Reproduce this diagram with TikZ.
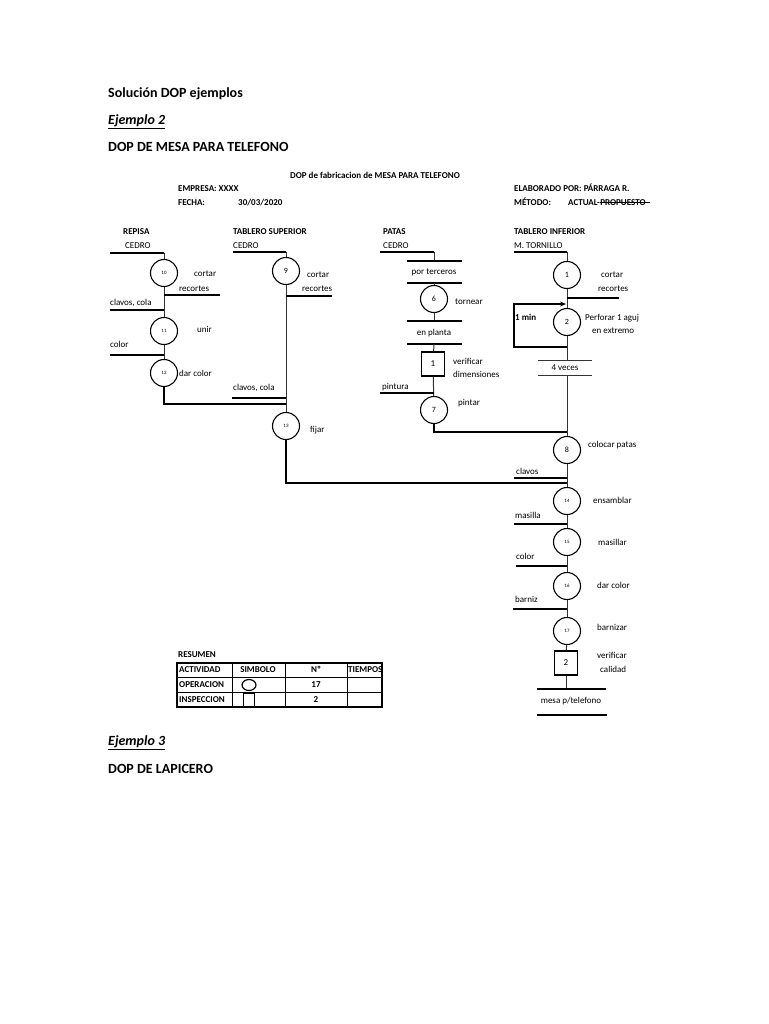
\documentclass[tikz,border=0pt]{standalone}
\usepackage{fontspec}
\setmainfont{Carlito}
\usetikzlibrary{arrows.meta,shapes.geometric}
\begin{document}
\begin{tikzpicture}[x=1pt,y=-1pt,
 op/.style={circle,draw,line width=1.1pt,minimum size=27pt,inner sep=0pt,font=\fontsize{8}{9}\selectfont},
 opsm/.style={op,font=\fontsize{5}{6}\selectfont},
 insp/.style={rectangle,draw,line width=1.1pt,minimum width=23pt,minimum height=24pt,inner sep=0pt,font=\fontsize{9}{10}\selectfont},
 lbl/.style={anchor=west,inner sep=0pt,text height=0.7em,text depth=0.2em,font=\fontsize{9}{11}\selectfont},
 clbl/.style={lbl,anchor=center},
 blbl/.style={lbl,font=\fontsize{9}{11}\selectfont\bfseries},
 head/.style={anchor=west,inner sep=0pt,text height=0.7em,text depth=0.2em,font=\fontsize{14}{16}\selectfont\bfseries},
 feed/.style={line width=1.5pt},
 flow/.style={line width=1pt,draw=black!80},
 grid/.style={line width=1pt},
]
\path[fill=white] (0,0) rectangle (768,1024);

% ---------- page headings ----------
\node[head] (t1) at (108,95) {Solución DOP ejemplos};
\node[head,font=\fontsize{14}{16}\selectfont\bfseries\itshape] (t2) at (108,122) {\underline{Ejemplo 2}};
\node[head] (t3) at (108,149) {DOP DE MESA PARA TELEFONO};
\node[head,font=\fontsize{14}{16}\selectfont\bfseries\itshape] (t4) at (108,743) {\underline{Ejemplo 3}};
\node[head] (t5) at (108,771) {DOP DE LAPICERO};

% ---------- chart header ----------
\node[blbl,anchor=center] (dt) at (375,176) {DOP de fabricacion de MESA PARA TELEFONO};
\node[blbl] (emp) at (178,189) {EMPRESA: XXXX};
\node[blbl] (fec) at (178,203) {FECHA:};
\node[blbl] (fd) at (238,203) {30/03/2020};
\node[blbl] (ela) at (514,189) {ELABORADO POR: PÁRRAGA R.};
\node[blbl] (met) at (514,203) {MÉTODO:};
\node[blbl] (act) at (568,203) {ACTUAL-};
\node[blbl] (prop) at (act.east) {PROPUESTO};
\draw[line width=0.7pt] ([yshift=0.6pt]prop.west) -- ([xshift=4pt,yshift=0.6pt]prop.east);

% ---------- column headings ----------
\node[blbl] (h1) at (123,232) {REPISA};
\node[lbl] (c1) at (125,246) {CEDRO};
\node[blbl] (h2) at (233,232) {TABLERO SUPERIOR};
\node[lbl] (c2) at (233,246) {CEDRO};
\node[blbl] (h3) at (383,232) {PATAS};
\node[lbl] (c3) at (383,246) {CEDRO};
\node[blbl] (h4) at (514,232) {TABLERO INFERIOR};
\node[lbl] (c4) at (514,246) {M. TORNILLO};

% ---------- REPISA ----------
\node[opsm] (o10) at (164,273) {10};
\node[opsm] (o11) at (164,331) {11};
\node[opsm] (o12) at (164,373) {12};
\coordinate (r0) at (110,253); \coordinate (r1) at (164,253);
\draw[feed] (r0) -- (r1);
\draw[flow] (r1) -- (o10);
\draw[flow] (o10) -- (o11);
\draw[flow] (o11) -- (o12);
\coordinate (r2) at (164,295); \coordinate (r3) at (220,295);
\draw[feed] (r2) -- (r3);
\coordinate (r4) at (110,310); \coordinate (r5) at (164,310);
\draw[feed] (r4) -- (r5);
\coordinate (r6) at (110,355); \coordinate (r7) at (164,355);
\draw[feed] (r6) -- (r7);
\coordinate (r8) at (164,404); \coordinate (r9) at (286,404);
\draw[feed] (o12) -- (r8) -- (r9);
\node[lbl] (l10) at (194,274) {cortar};
\node[lbl] (l10b) at (179,289) {recortes};
\node[lbl] (l11a) at (110,303) {clavos, cola};
\node[lbl] (l11) at (197,330) {unir};
\node[lbl] (l12a) at (110,345) {color};
\node[lbl] (l12) at (179,374) {dar color};

% ---------- TABLERO SUPERIOR ----------
\node[op] (o9) at (286,271) {9};
\node[opsm] (o13) at (286,426) {13};
\coordinate (s0) at (233,252); \coordinate (s1) at (286,252);
\draw[feed] (s0) -- (s1);
\draw[flow] (s1) -- (o9);
\draw[flow] (o9) -- (o13);
\coordinate (s2) at (286,296); \coordinate (s3) at (332,296);
\draw[feed] (s2) -- (s3);
\coordinate (s4) at (232,398); \coordinate (s5) at (286,398);
\draw[feed] (s4) -- (s5);
\coordinate (s6) at (286,483); \coordinate (s7) at (567,483);
\draw[feed] (o13) -- (s6) -- (s7);
\node[lbl] (l9) at (307,275) {cortar};
\node[lbl] (l9b) at (302,289) {recortes};
\node[lbl] (l13a) at (233,388) {clavos, cola};
\node[lbl] (l13) at (310,430) {fijar};

% ---------- PATAS ----------
\node[op] (o6) at (434,299) {6};
\node[insp] (i1) at (433,364) {1};
\node[op] (o7) at (434,410) {7};
\coordinate (p0) at (380,252); \coordinate (p1) at (434,252); \coordinate (p2) at (434,261);
\draw[feed] (p0) -- (p1);
\draw[flow] (p1) -- (p2);
\draw[feed] (407,261) -- (462,261);
\node[clbl] (pt) at (434,272) {por terceros};
\draw[feed] (407,283) -- (462,283);
\coordinate (p3) at (434,283);
\draw[flow] (p3) -- (o6);
\coordinate (p4) at (434,321);
\draw[flow] (o6) -- (p4);
\draw[feed] (407,321) -- (462,321);
\node[clbl] (ep) at (434,333) {en planta};
\draw[feed] (407,344) -- (462,344);
\coordinate (p5) at (434,344);
\draw[flow] (p5) -- (i1);
\draw[flow] (i1) -- (o7);
\coordinate (p6) at (380,393); \coordinate (p7) at (434,393);
\draw[feed] (p6) -- (p7);
\coordinate (p8) at (434,432); \coordinate (p9) at (567,432);
\draw[feed] (o7) -- (p8) -- (p9);
\node[lbl] (l6) at (455,302) {tornear};
\node[lbl] (li1) at (453,362) {verificar};
\node[lbl] (li1b) at (453,375) {dimensiones};
\node[lbl] (l7a) at (382,387) {pintura};
\node[lbl] (l7) at (458,403) {pintar};

% ---------- TABLERO INFERIOR ----------
\node[op] (o1) at (567,275) {1};
\node[op] (o2) at (567,322) {2};
\node[op] (o8) at (567,450) {8};
\node[opsm] (o14) at (567,501) {14};
\node[opsm] (o15) at (567,542) {15};
\node[opsm] (o16) at (567,586) {16};
\node[opsm] (o17) at (567,631) {17};
\node[insp] (i2) at (566,663) {2};
\coordinate (q0) at (514,252); \coordinate (q1) at (567,252);
\draw[feed] (q0) -- (q1);
\draw[flow] (q1) -- (o1);
\draw[flow] (o1) -- (o2);
\coordinate (q2) at (567,298); \coordinate (q3) at (619,298);
\draw[feed] (q2) -- (q3);
\coordinate (lb) at (567,347); \coordinate (lt) at (566,304);
\draw[feed,-{Stealth[length=6pt,width=5pt]}] (lb) -- (514,347) -- (514,304) -- (lt);
\node[blbl] (lmin) at (515,318) {1 min};
\coordinate (q4) at (567,360);
\draw[flow] (o2) -- (q4);
\draw[flow] (538,360) -- (592,360);
\node[clbl] (v4) at (565,368) {4 veces};
\draw[flow] (538,375) -- (592,375);
\coordinate (q5) at (567,375);
\draw[flow] (q5) -- (o8);
\coordinate (q6) at (514,478); \coordinate (q7) at (567,478);
\draw[feed] (q6) -- (q7);
\draw[flow] (o8) -- (o14);
\coordinate (q8) at (514,524); \coordinate (q9) at (567,524);
\draw[feed] (q8) -- (q9);
\draw[flow] (o14) -- (o15);
\coordinate (q10) at (516,566); \coordinate (q11) at (567,566);
\draw[feed] (q10) -- (q11);
\draw[flow] (o15) -- (o16);
\coordinate (q12) at (513,609); \coordinate (q13) at (567,609);
\draw[feed] (q12) -- (q13);
\draw[flow] (o16) -- (o17);
\draw[flow] (o17) -- (i2);
\coordinate (q14) at (566,689);
\draw[flow] (i2) -- (q14);
\draw[feed] (537,689) -- (606,689);
\node[clbl] (fin) at (571,701) {mesa p/telefono};
\draw[feed] (537,715) -- (607,715);
\node[lbl] (l1) at (601,275) {cortar};
\node[lbl] (l1b) at (598,289) {recortes};
\node[lbl] (l2) at (585,318) {Perforar 1 aguj};
\node[lbl] (l2b) at (592,331) {en extremo};
\node[lbl] (l8) at (588,445) {colocar patas};
\node[lbl] (l14a) at (516,472) {clavos};
\node[lbl] (l14) at (593,501) {ensamblar};
\node[lbl] (l15a) at (515,516) {masilla};
\node[lbl] (l15) at (598,543) {masillar};
\node[lbl] (l16a) at (516,557) {color};
\node[lbl] (l16) at (597,586) {dar color};
\node[lbl] (l17a) at (515,600) {barniz};
\node[lbl] (l17) at (597,628) {barnizar};
\node[lbl] (li2) at (597,656) {verificar};
\node[lbl] (li2b) at (600,670) {calidad};

% ---------- RESUMEN table ----------
\node[blbl] (res) at (178,655) {RESUMEN};
\draw[line width=1.4pt] (177,663) rectangle (382,707);
\draw[grid] (177,677) -- (382,677);
\draw[grid] (177,692) -- (382,692);
\draw[grid] (232,663) -- (232,707);
\draw[grid] (285,663) -- (285,707);
\draw[grid] (347,663) -- (347,707);
\node[blbl] (ta) at (179,670) {ACTIVIDAD};
\node[blbl,anchor=center] (tb) at (258,670) {SIMBOLO};
\node[blbl,anchor=center] (tc) at (316,670) {Nº};
\node[blbl] (td) at (348,670) {TIEMPOS};
\node[blbl] (te) at (179,685) {OPERACION};
\node[draw,ellipse,line width=1.2pt,minimum width=14pt,minimum height=11pt,inner sep=0pt] (sym1) at (249,685) {};
\node[blbl,anchor=center] (tf) at (316,685) {17};
\node[blbl] (tg) at (179,700) {INSPECCION};
\node[draw,rectangle,line width=1.2pt,minimum width=11pt,minimum height=13pt,inner sep=0pt] (sym2) at (249,700) {};
\node[blbl,anchor=center] (th) at (316,700) {2};
\end{tikzpicture}
\end{document}
